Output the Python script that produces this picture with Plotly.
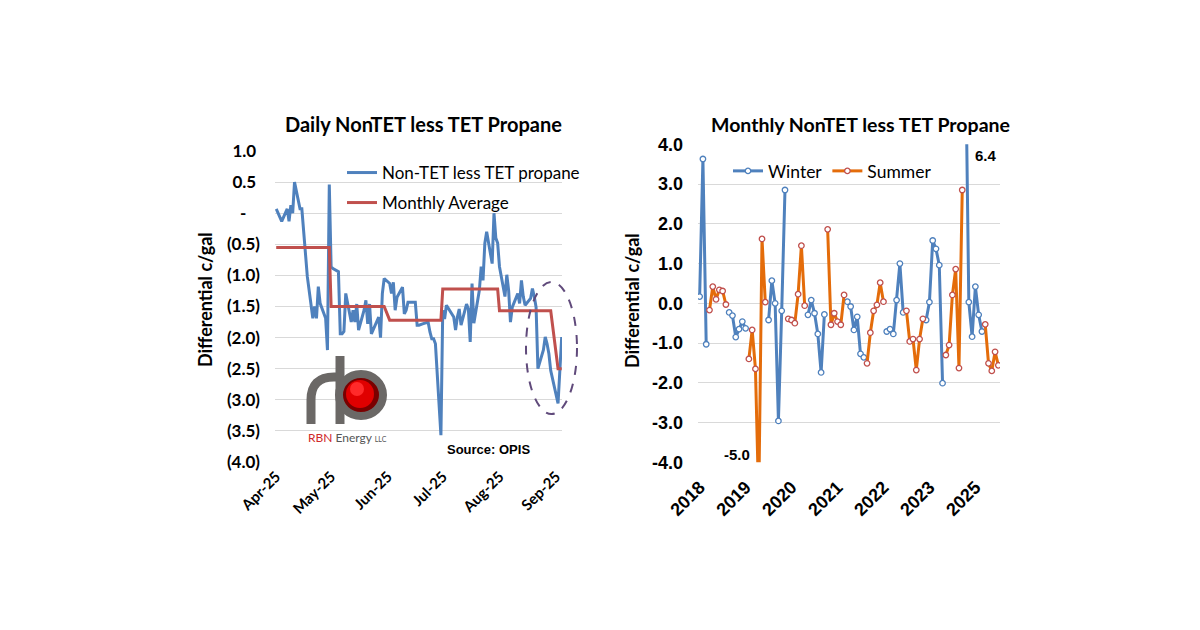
import plotly.graph_objects as go
import pandas as pd

W, H = 1200, 630

# ---------------- Left chart data: daily Non-TET less TET propane (c/gal) ----------------
apr_vals = [0.07, 0.0, -0.07, -0.13, 0.07, -0.13, 0.13, 0.0, 0.5, 0.07, 0.07, -0.25, -0.62, -1.02,
            -1.69, -1.5, -1.69, -1.18, -1.45, -1.69, -2.2, 0.46]
may_vals = [-0.86, -0.89, -0.94, -1.94, -1.94, -1.9, -1.29, -1.75, -1.56, -1.75, -1.46, -1.88, -1.56,
            -1.40, -1.78, -1.46, -1.94, -1.67, -2.0, -1.29, -1.05]
jun_vals = [-1.13, -1.29, -1.11, -1.56, -1.35, -1.19, -1.62, -1.56, -1.43, -1.43, -1.43, -1.80, -1.80,
            -1.78, -1.75, -1.91, -2.02, -2.02, -2.1, -3.57]
jul_vals = [-1.56, -1.70, -1.48, -1.67, -1.88, -1.67, -1.54, -1.80, -1.46, -1.54, -2.07, -1.13, -1.77,
            -1.24, -0.86, -1.08, -0.48, -0.30, -0.81, 0.0, -0.40, -0.48]
aug_vals = [-0.86, -1.34, -0.99, -1.24, -1.75, -1.51, -1.29, -1.45, -1.08, -1.34, -1.48, -1.37, -1.21,
            -1.34, -1.51, -2.5, -2.2, -1.99, -2.10, -2.26, -2.53]
sep_vals = [-3.06, -2.5, -1.99]
market_holidays = ["2025-05-26", "2025-06-19", "2025-07-04", "2025-09-01"]

avg_months = ["2025-04", "2025-05", "2025-06", "2025-07", "2025-08", "2025-09"]
avg_values = [-0.55, -1.50, -1.72, -1.22, -1.57, -2.50]

left_ytick_vals = [1.0, 0.5, 0.0, -0.5, -1.0, -1.5, -2.0, -2.5, -3.0, -3.5, -4.0]
left_ytick_text = ["1.0\u2008", "0.5\u2008", "-\u2007\u2008", "(0.5)", "(1.0)", "(1.5)", "(2.0)",
                   "(2.5)", "(3.0)", "(3.5)", "(4.0)"]
left_xtick_vals = ["2025-04-01", "2025-05-01", "2025-06-01", "2025-07-01", "2025-08-01", "2025-09-01"]
left_xtick_text = ["Apr-25", "May-25", "Jun-25", "Jul-25", "Aug-25", "Sep-25"]

# ---------------- Right chart data: monthly (Jan-2018 .. Aug-2025) ----------------
monthly_vals = [
    0.17, 3.63, -1.03, -0.17, 0.42, 0.10, 0.34, 0.31, -0.03, -0.23, -0.31, -0.85,   # 2018
    -0.65, -0.46, -0.63, -1.40, -0.67, -1.65, -5.0, 1.62, 0.03, -0.42, 0.57, 0.0,    # 2019
    -2.96, -0.19, 2.85, -0.39, -0.42, -0.50, 0.23, 1.45, -0.06, -0.29, 0.08, -0.25,  # 2020
    -0.77, -1.74, -0.28, 1.86, -0.54, -0.25, -0.46, -0.54, 0.21, 0.04, -0.08, -0.67, # 2021
    -0.34, -1.27, -1.36, -1.51, -0.74, -0.19, -0.04, 0.52, 0.04, -0.71, -0.65, -0.77,# 2022
    0.08, 1.0, -0.23, -0.19, -0.96, -0.90, -1.68, -0.90, -0.39, -0.42, 0.03, 1.58,   # 2023
    1.37, 0.96, -2.01, -1.30, -1.05, 0.21, 0.86, -1.63, 2.85, 6.4, 0.03, -0.84,      # 2024
    0.42, -0.29, -0.71, -0.53, -1.51, -1.70, -1.22, -1.56,                           # 2025
]
month_start = "2018-01-01"
summer_months = [4, 5, 6, 7, 8, 9]
right_label_every = 14
right_yrange = [-4.0, 4.0]
right_ytick_vals = [4.0, 3.0, 2.0, 1.0, 0.0, -1.0, -2.0, -3.0, -4.0]
right_ytick_text = ["4.0", "3.0", "2.0", "1.0", "0.0", "-1.0", "-2.0", "-3.0", "-4.0"]

# ---------------- derived series ----------------
daily_vals = apr_vals + may_vals + jun_vals + jul_vals + aug_vals + sep_vals
daily_dates = [d for d in pd.bdate_range("2025-04-01", "2025-09-04")
               if d.strftime("%Y-%m-%d") not in market_holidays]
assert len(daily_dates) == len(daily_vals), (len(daily_dates), len(daily_vals))
avg_map = dict(zip(avg_months, avg_values))
avg_line = [avg_map[d.strftime("%Y-%m")] for d in daily_dates]

months = pd.date_range(month_start, periods=len(monthly_vals), freq="MS")
cats = [m.strftime("%b-%y") for m in months]
winter = [v if m.month not in summer_months else None for m, v in zip(months, monthly_vals)]
summer = [v if m.month in summer_months else None for m, v in zip(months, monthly_vals)]
right_tick_vals = cats[::right_label_every]
right_tick_text = [m.strftime("%Y") for m in months[::right_label_every]]

# ---------------- styling ----------------
FC = "Lato, 'Open Sans', sans-serif"
FA = "'Liberation Sans', Arial, sans-serif"
BLUE = "#4F81BD"
RED = "#C0504D"
ORANGE = "#E46C0A"
GRID = "#D9D9D9"


def px(x):
    return x / W


def py(y):
    return 1 - y / H


fig = go.Figure()

fig.add_trace(go.Scatter(x=daily_dates, y=daily_vals, mode="lines", name="Non-TET less TET propane",
                         line=dict(color=BLUE, width=3), xaxis="x", yaxis="y", legend="legend",
                         showlegend=True))
fig.add_trace(go.Scatter(x=daily_dates, y=avg_line, mode="lines", name="Monthly Average",
                         line=dict(color=RED, width=3), xaxis="x", yaxis="y", legend="legend2",
                         showlegend=True))

fig.add_trace(go.Scatter(x=cats, y=winter, mode="lines+markers", name="Winter",
                         line=dict(color=BLUE, width=3),
                         marker=dict(size=5.5, color="white", line=dict(color=BLUE, width=1.3)),
                         xaxis="x2", yaxis="y2", legend="legend3", connectgaps=False, showlegend=True))
fig.add_trace(go.Scatter(x=cats, y=summer, mode="lines+markers", name="Summer",
                         line=dict(color=ORANGE, width=3),
                         marker=dict(size=5.5, color="white", line=dict(color=RED, width=1.3)),
                         xaxis="x2", yaxis="y2", legend="legend3", connectgaps=False, showlegend=True))

annotations = []
# chart titles
annotations.append(dict(text="<b>Daily NonTET less TET Propane</b>", x=px(423), y=py(124),
                        xref="paper", yref="paper", showarrow=False, xanchor="center", yanchor="middle",
                        font=dict(family=FC, size=20, color="black")))
annotations.append(dict(text="<b>Monthly NonTET less TET Propane</b>", x=px(860), y=py(125),
                        xref="paper", yref="paper", showarrow=False, xanchor="center", yanchor="middle",
                        font=dict(family=FC, size=19.5, color="black")))
# axis titles
for xx in (205, 632):
    annotations.append(dict(text="<b>Differential c/gal</b>", x=px(xx), y=py(300), xref="paper",
                            yref="paper", showarrow=False, textangle=-90, xanchor="center",
                            yanchor="middle", font=dict(family=FC, size=18, color="black")))
# source
annotations.append(dict(text="<b>Source: OPIS</b>", x=px(489), y=py(449), xref="paper", yref="paper",
                        showarrow=False, xanchor="center", yanchor="middle",
                        font=dict(family=FA, size=13, color="black")))
# logo text
annotations.append(dict(text="<span style='color:#D0282A'>RBN</span> Energy <span style='font-size:7px'>LLC</span>",
                        x=px(306), y=py(437), xref="paper", yref="paper", showarrow=False,
                        xanchor="left", yanchor="middle", font=dict(family=FC, size=12, color="#555555")))
# off-scale value labels on monthly chart
for c, v in zip(cats, monthly_vals):
    if v < right_yrange[0]:
        annotations.append(dict(text=f"<b>{v:.1f}</b>", x=c, y=right_yrange[0], xref="x2", yref="y2",
                                showarrow=False, xanchor="right", yanchor="bottom", xshift=-7, yshift=-3,
                                font=dict(family=FA, size=15, color="black")))
    elif v > right_yrange[1]:
        annotations.append(dict(text=f"<b>{v:.1f}</b>", x=c, y=right_yrange[1], xref="x2", yref="y2",
                                showarrow=False, xanchor="left", yanchor="top", xshift=7, yshift=-1,
                                font=dict(family=FA, size=15, color="black")))

shapes = []
# dashed ellipse highlighting late-August / September
shapes.append(dict(type="circle", xref="paper", yref="paper", x0=px(526), x1=px(577), y0=py(414),
                   y1=py(282), line=dict(color="#604A7B", width=2, dash="dash")))
# RBN logo (decoration)
PIPE = "#6B6866"
shapes.append(dict(type="path", xref="paper", yref="paper",
                   path=f"M {px(311)} {py(424)} L {px(311)} {py(400)} Q {px(311)} {py(377)} {px(334)} {py(377)} L {px(342)} {py(377)}",
                   line=dict(color=PIPE, width=9)))
shapes.append(dict(type="line", xref="paper", yref="paper", x0=px(340), x1=px(340), y0=py(424), y1=py(356),
                   line=dict(color=PIPE, width=9)))
shapes.append(dict(type="circle", xref="paper", yref="paper", x0=px(339), x1=px(383), y0=py(416), y1=py(374),
                   fillcolor="#7A0000", line=dict(color=PIPE, width=8)))
shapes.append(dict(type="circle", xref="paper", yref="paper", x0=px(346), x1=px(374), y0=py(408), y1=py(380),
                   fillcolor="#E00000", line=dict(width=0)))
shapes.append(dict(type="circle", xref="paper", yref="paper", x0=px(350), x1=px(364), y0=py(396), y1=py(382),
                   fillcolor="#FF2A2A", line=dict(width=0)))

tickfont_c = dict(family=FC, size=17, color="black", weight="bold")

fig.update_layout(
    width=W, height=H, autosize=False, showlegend=True,
    margin=dict(l=0, r=0, t=0, b=0),
    paper_bgcolor="white", plot_bgcolor="white",
    xaxis=dict(domain=[px(275), px(562)], anchor="y", type="date",
               range=["2025-03-31 08:00", "2025-09-04 04:00"],
               tickvals=left_xtick_vals, ticktext=left_xtick_text, tickangle=-45,
               tickfont=dict(family=FC, size=15, color="black", weight="bold"),
               showgrid=False, zeroline=False, showline=False, ticks="", automargin=False,
               ticklabelstandoff=2),
    yaxis=dict(domain=[py(462), py(151)], anchor="x", range=[-4.0, 1.0], tickvals=left_ytick_vals,
               ticktext=left_ytick_text, tickfont=tickfont_c, showgrid=True, gridcolor=GRID,
               gridwidth=1, zeroline=False, showline=False, ticks="", automargin=False,
               ticklabelstandoff=14),
    xaxis2=dict(domain=[px(698), px(1000)], anchor="y2", type="category", categoryorder="array",
                categoryarray=cats, range=[-0.5, len(cats) - 0.5], tickvals=right_tick_vals,
                ticktext=right_tick_text, tickangle=-45,
                tickfont=dict(family=FA, size=18, color="black", weight="bold"),
                showgrid=False, zeroline=False, showline=False, ticks="", automargin=False,
                ticklabelstandoff=10),
    yaxis2=dict(domain=[py(462.3), py(144.3)], anchor="x2", range=right_yrange,
                tickvals=right_ytick_vals, ticktext=right_ytick_text,
                tickfont=dict(family=FA, size=18, color="black", weight="bold"), showgrid=True,
                gridcolor=GRID, gridwidth=1, zeroline=False, showline=False, ticks="",
                automargin=False, ticklabelstandoff=14),
    legend=dict(x=px(342), y=py(155), xanchor="left", yanchor="top", bgcolor="rgba(0,0,0,0)",
                font=dict(family=FC, size=17, color="black"), visible=True),
    legend2=dict(x=px(342), y=py(185), xanchor="left", yanchor="top", bgcolor="rgba(0,0,0,0)",
                 font=dict(family=FC, size=17, color="black"), visible=True),
    legend3=dict(x=px(728), y=py(153), xanchor="left", yanchor="top", orientation="h",
                 bgcolor="rgba(0,0,0,0)", font=dict(family=FC, size=17.5, color="black"), visible=True),
    annotations=annotations,
    shapes=shapes,
)

fig.write_html("out.html")
